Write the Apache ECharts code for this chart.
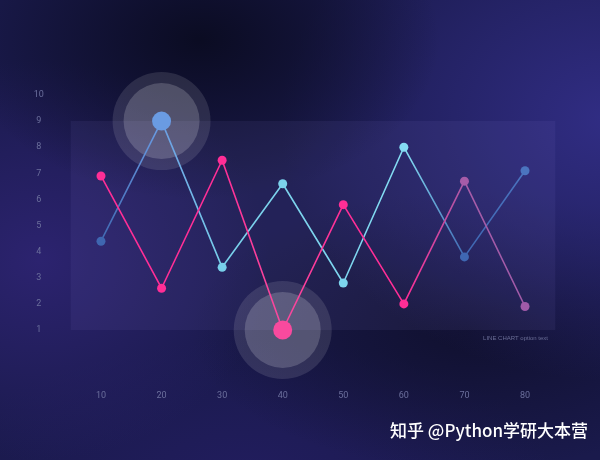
<!DOCTYPE html>
<html>
<head>
<meta charset="utf-8">
<script src="https://cdn.jsdelivr.net/npm/echarts@6/dist/echarts.min.js"></script>
<style>
html,body{margin:0;padding:0;width:600px;height:460px;overflow:hidden;}
body{
  background:
    radial-gradient(ellipse 240px 160px at 200px 40px, rgba(10,11,32,0.95), rgba(10,11,32,0) 100%),
    radial-gradient(ellipse 330px 260px at 610px 120px, rgba(50,46,135,0.95), rgba(50,46,135,0) 100%),
    radial-gradient(ellipse 230px 200px at 40px 260px, rgba(46,36,115,0.9), rgba(46,36,115,0) 100%),
    radial-gradient(ellipse 280px 140px at 470px 330px, rgba(14,14,40,0.8), rgba(14,14,40,0) 100%),
    radial-gradient(ellipse 300px 130px at 250px 470px, rgba(36,30,100,0.7), rgba(36,30,100,0) 100%),
    #1a1a4c;
}
#chart{width:600px;height:460px;}
</style>
</head>
<body>
<div id="chart"></div>
<script>
// ---- data ----
const categories = ['10', '20', '30', '40', '50', '60', '70', '80'];
const blueValues = [4.4, 9.0, 3.4, 6.6, 2.8, 8.0, 3.8, 7.1];
const pinkValues = [6.9, 2.6, 7.5, 1.0, 5.8, 2.0, 6.7, 1.9];
const blueColors = ['#3f66b0', '#6a9be2', '#78cfea', '#7cd3ec', '#7dd5ee', '#84dcf2', '#3f67b2', '#4b74bf'];
const pinkColors = ['#ff2e96', '#ff2e96', '#ff2e96', '#f84a9e', '#ff2e96', '#ff2e96', '#a65ca8', '#a05aa8'];
const blueHighlight = [1];   // index of highlighted blue point
const pinkHighlight = [3];   // index of highlighted pink point
const footnote = 'LINE CHART option text';
const watermark = '知乎 @Python学研大本营';

function gradient(colors) {
  return new echarts.graphic.LinearGradient(0, 0, 1, 0,
    colors.map((c, i) => ({ offset: i / (colors.length - 1), color: c })));
}
function items(values, colors, hl) {
  return values.map((v, i) => ({
    value: v,
    symbolSize: hl.includes(i) ? 19 : 9,
    itemStyle: { color: colors[i] }
  }));
}
const hlData = blueHighlight.map(i => [i, blueValues[i]])
  .concat(pinkHighlight.map(i => [i, pinkValues[i]]));

const chart = echarts.init(document.getElementById('chart'), null, { renderer: 'canvas' });
chart.setOption({
  backgroundColor: 'transparent',
  animation: false,
  grid: { left: 70.7, right: 44.7, top: 95, bottom: 130 },
  xAxis: {
    type: 'category',
    data: categories,
    boundaryGap: true,
    axisLine: { show: false },
    axisTick: { show: false },
    splitLine: { show: false },
    axisLabel: { color: '#6b6f9c', fontSize: 9, fontFamily: 'Roboto', margin: 61 }
  },
  yAxis: {
    type: 'value',
    min: 1, max: 10, interval: 1,
    axisLine: { show: false },
    axisTick: { show: false },
    splitLine: { show: false },
    axisLabel: { color: '#6b6f9c', fontSize: 9, fontFamily: 'Roboto', align: 'center', margin: 32 }
  },
  series: [
    {
      type: 'line',
      name: 'box',
      data: [],
      silent: true,
      markArea: {
        silent: true,
        itemStyle: { color: 'rgba(150,140,230,0.08)' },
        data: [[{ yAxis: 1 }, { yAxis: 9 }]]
      }
    },
    {
      type: 'scatter',
      data: hlData,
      symbolSize: 98,
      silent: true,
      z: 1,
      itemStyle: { color: 'rgba(255,255,255,0.14)' }
    },
    {
      type: 'scatter',
      data: hlData,
      symbolSize: 76,
      silent: true,
      z: 1,
      itemStyle: { color: 'rgba(255,255,255,0.22)' }
    },
    {
      type: 'line',
      name: 'blue',
      data: items(blueValues, blueColors, blueHighlight),
      symbol: 'circle',
      showSymbol: true,
      z: 3,
      lineStyle: { width: 1.6, color: gradient(blueColors) }
    },
    {
      type: 'line',
      name: 'pink',
      data: items(pinkValues, pinkColors, pinkHighlight),
      symbol: 'circle',
      showSymbol: true,
      z: 4,
      lineStyle: { width: 1.6, color: gradient(pinkColors) }
    }
  ],
  graphic: [
    {
      type: 'text', right: 52, top: 335,
      style: { text: footnote, fill: '#6a6d96', font: '6px "Liberation Sans"' }
    },
    {
      type: 'text', right: 12, top: 422,
      style: { text: watermark, fill: '#ffffff', font: '500 17px "Noto Sans CJK SC"' }
    }
  ]
});
</script>
</body>
</html>
